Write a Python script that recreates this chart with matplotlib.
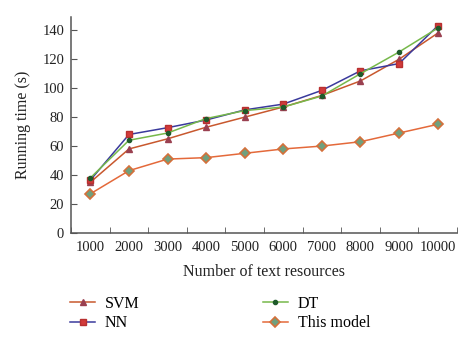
import numpy as np
import matplotlib
matplotlib.use('Agg')
import matplotlib.pyplot as plt

plt.rcParams['font.family'] = ['Liberation Serif', 'DejaVu Serif']

categories = ['1000', '2000', '3000', '4000', '5000', '6000', '7000', '8000', '9000', '10000']
svm = [35, 58, 65, 73, 80, 87, 95, 105, 120, 138]
nn = [36.5, 68, 72.7, 78, 85, 89, 98.5, 112, 117, 143]
dt = [38, 64, 69, 79, 84.5, 87, 94.6, 110, 125, 141.5]
this_model = [27, 43, 51, 52, 55, 58, 60, 63, 69, 75]

x = np.arange(len(categories))

fig = plt.figure(figsize=(4.74, 3.45), dpi=100)
ax = fig.add_axes([0.15, 0.325, 0.814, 0.627])

axis_col = '#555555'
ax.plot(x, svm, color='#c8582e', lw=1.1, marker='^', ms=4.5, mfc='#9a4050', mec='#9a4050', label='SVM')
ax.plot(x, nn, color='#3a3a9c', lw=1.1, marker='s', ms=5, mfc='#d23a3a', mec='#b83030', label='NN')
ax.plot(x, dt, color='#76b84a', lw=1.1, marker='o', ms=3, mfc='#1e5a2a', mec='#1e5a2a', label='DT')
ax.plot(x, this_model, color='#e4693a', lw=1.1, marker='D', ms=5.5, mfc='#6fa07e', mec='#d4703a', mew=1.2, label='This model')

ax.set_xlim(-0.5, len(categories) - 0.5)
ax.set_ylim(0, 149.5)
ax.set_yticks(np.arange(0, 141, 20))
ax.set_xticks(x)
ax.set_xticklabels(categories)
ax.set_xticks(np.arange(-0.5, len(categories), 1.0), minor=True)
ax.tick_params(axis='x', which='major', length=0, labelsize=10.5, pad=6, colors='#222222')
ax.tick_params(axis='x', which='minor', direction='in', length=4, color=axis_col)
ax.tick_params(axis='y', direction='in', length=4, color=axis_col, labelsize=10.5, labelcolor='#222222', pad=5)

for s in ['top', 'right']:
    ax.spines[s].set_visible(False)
for s in ['left', 'bottom']:
    ax.spines[s].set_color(axis_col)
    ax.spines[s].set_linewidth(1.1)

ax.set_xlabel('Number of text resources', fontsize=11.5, color='#222222', labelpad=7)
ax.set_ylabel('Running time (s)', fontsize=11.5, color='#222222', labelpad=8)

ax.legend(loc='upper left', bbox_to_anchor=(-0.02, -0.262), ncol=2, frameon=False,
          fontsize=11.5, handlelength=1.6, columnspacing=7.7, handletextpad=0.6,
          labelspacing=0.22, borderaxespad=0)

fig.savefig('out.png', dpi=100)
